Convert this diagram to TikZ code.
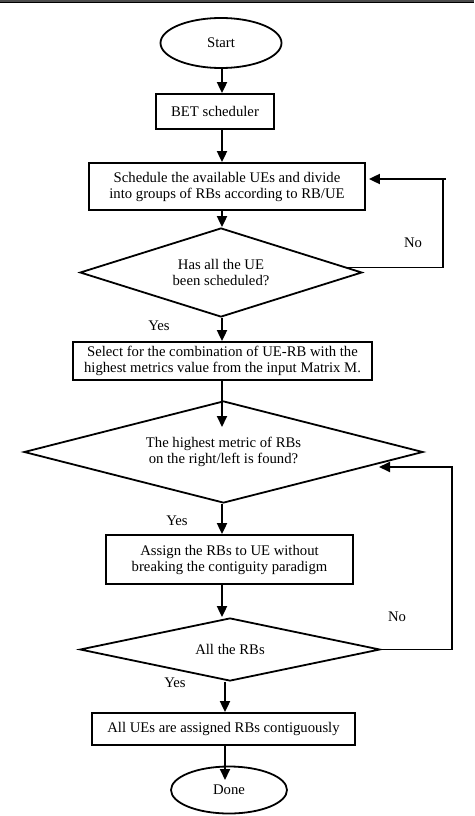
\documentclass[tikz,border=0pt]{standalone}
\usepackage{fontspec}
\setmainfont{Liberation Serif}
\usetikzlibrary{shapes.geometric,arrows.meta,calc}
\newcommand\flowfont{\fontsize{14.7}{16}\selectfont}
\begin{document}
\begin{tikzpicture}[x=1pt,y=-1pt,
  every node/.style={font=\flowfont},
  box/.style={draw, line width=1.8pt, rectangle, inner sep=0pt, align=center},
  term/.style={draw, line width=1.8pt, ellipse, inner sep=0pt},
  decision/.style={draw, line width=1.8pt, diamond, aspect=3, inner sep=0pt, align=center},
  conn/.style={line width=1.9pt},
  arr/.style={conn, -{Triangle[length=11pt,width=10pt]}},
  lbl/.style={inner sep=0pt}
]
\useasboundingbox (0,0) rectangle (474,816);
\fill[gray!60!black] (0,0) rectangle (474,2.4);
\draw[line width=1pt] (0,2.8) -- (474,2.8);

\coordinate (col) at (222,0);
\coordinate (col2) at (225,0);

\node[term, minimum width=121, minimum height=50] (start) at (221,43) {Start};
\node[box, minimum width=118, minimum height=35] (bet) at (215,111.5) {BET scheduler};
\node[box, minimum width=276, minimum height=47] (sched) at (227,186.5)
  {Schedule the available UEs and divide\\into groups of RBs according to RB/UE};
\node[decision, minimum width=282, minimum height=89] (d1) at (221,272.5)
  {Has all the UE\\been scheduled?};
\node[box, minimum width=299, minimum height=38] (sel) at (222.5,361)
  {Select for the combination of UE-RB with the\\highest metrics value from the input Matrix M.};
\node[decision, minimum width=399, minimum height=102, aspect=4] (d2) at (223.5,452)
  {The highest metric of RBs\\on the right/left is found?};
\node[box, minimum width=247, minimum height=49] (asg) at (229.5,559.5)
  {Assign the RBs to UE without\\breaking the contiguity paradigm};
\node[decision, minimum width=300, minimum height=63, aspect=4.5] (d3) at (230,649.5) {All the RBs};
\node[box, minimum width=263, minimum height=32] (fin) at (223.5,729)
  {All UEs are assigned RBs contiguously};
\node[term, minimum width=116, minimum height=47] (done) at (229,790) {Done};

\node[lbl] (yes1) at (159,326) {Yes};
\node[lbl] (no1) at (413,243) {No};
\node[lbl] (yes2) at (177,521) {Yes};
\node[lbl] (no2) at (397,617) {No};
\node[lbl] (yes3) at (175,683) {Yes};

\coordinate (d2in) at (222,427);
\coordinate (donein) at (225,780);
\coordinate (r1) at (443,179);
\coordinate (r2) at (452,467);
\coordinate (d2side) at (379,467);

\draw[arr] (start.south -| col) -- (bet.north -| col);
\draw[arr] (bet.south -| col) -- (sched.north -| col);
\draw[arr] (sched.south -| col) -- (d1.north -| col);
\draw[arr] (d1.south -| col) -- (sel.north -| col);
\draw[arr] (sel.south -| col) -- (d2in);
\draw[arr] (d2.south -| col) -- (asg.north -| col);
\draw[arr] (asg.south -| col) -- (d3.north -| col);
\draw[arr] (d3.south -| col2) -- (fin.north -| col2);
\draw[arr] (fin.south -| col2) -- (donein);

\draw[conn] ($(d1.east)!0.11!(d1.north)$) -| (r1);
\draw[arr, shorten >=3pt] ([xshift=3]r1) -- (sched.east |- r1);
\draw[arr] (d3.east) -| (r2) -- (d2side);
\end{tikzpicture}
\end{document}
